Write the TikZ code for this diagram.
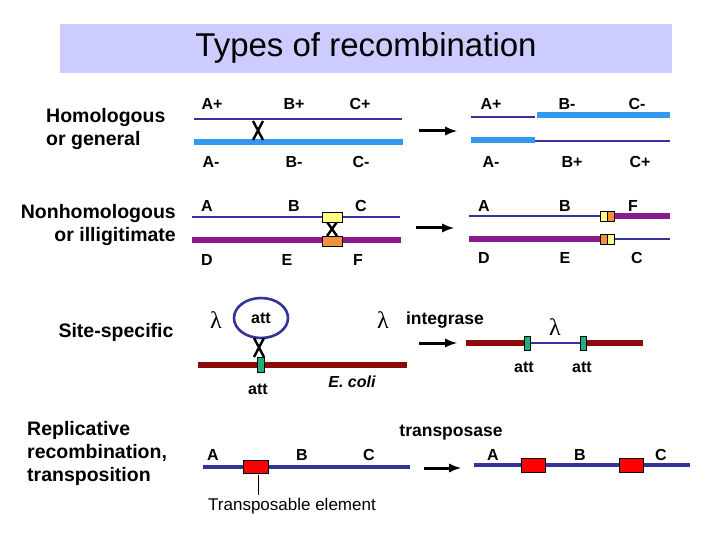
\documentclass[tikz,border=0pt]{standalone}
\usepackage{fontspec}
\setmainfont{Liberation Sans}
\newfontfamily\lamfont{Liberation Serif}
\begin{document}
\definecolor{dblue}{HTML}{333399}
\definecolor{lblue}{HTML}{3399EE}
\definecolor{purp}{HTML}{8B1A8B}
\definecolor{dred}{HTML}{8B0A0A}
\definecolor{lav}{HTML}{CCCCFF}
\definecolor{yel}{HTML}{FFFF88}
\definecolor{ora}{HTML}{F09040}
\definecolor{grn}{HTML}{20B080}
\begin{tikzpicture}[x=1pt,y=-1pt,
 lab/.style={font=\fontsize{16}{18}\selectfont\bfseries},
 lam/.style={font=\fontsize{24}{26}\selectfont\lamfont},
 side/.style={font=\fontsize{19.5}{23}\selectfont\bfseries,align=left,inner sep=0},
 db/.style={dblue,line width=2.8pt},
 lb/.style={lblue,line width=5.5pt},
 pu/.style={purp,line width=5.5pt},
 rd/.style={dred,line width=5.5pt},
 arr/.style={-latex,line width=3pt},
 xx/.style={line width=2.4pt},
 box/.style={draw=black,line width=0.6pt}]
\useasboundingbox (0,0) rectangle (720,540);
\fill[lav] (60,24) rectangle (672,73);
\node (title) at (366,48) {\fontsize{33}{36}\selectfont Types of recombination};
% left labels
\node[side,anchor=west] (h) at (46,129) {Homologous\\or general};
\node[side,anchor=east,align=right] (n) at (176,225) {Nonhomologous\\or illigitimate};
\node[side] (s) at (116,332) {Site-specific};
\node[side,anchor=west] (r) at (27,453) {Replicative\\recombination,\\transposition};
% row 1
\draw[db] (194,119) -- (402,119);
\draw[lb] (194,142) -- (403,142);
\draw[xx] (253,121) -- (263,140) (263,121) -- (253,140);
\node[lab] (a1) at (212,104) {A+}; \node[lab] (b1) at (294,104) {B+}; \node[lab] (c1) at (360,104) {C+};
\node[lab] (a2) at (211,162) {A-}; \node[lab] (b2) at (294,162) {B-}; \node[lab] (c2) at (361,162) {C-};
\coordinate (r1s) at (419,131); \coordinate (r1e) at (457,131);
\draw[arr] (r1s) -- (r1e);
\draw[db] (471,117) -- (535,117); \draw[lb] (537,115) -- (670,115);
\draw[lb] (471,140) -- (535,140); \draw[db] (535,141) -- (670,141);
\node[lab] (a3) at (491,104) {A+}; \node[lab] (b3) at (567,104) {B-}; \node[lab] (c3) at (637,104) {C-};
\node[lab] (a4) at (491,162) {A-}; \node[lab] (b4) at (572,162) {B+}; \node[lab] (c4) at (640,162) {C+};
% row 2
\draw[db] (192,217) -- (400,217);
\draw[pu] (192,240) -- (401,240);
\draw[xx] (327,222) -- (337,236) (337,222) -- (327,236);
\draw[box,fill=yel] (322,212) rectangle (342,222);
\draw[box,fill=ora] (322,236) rectangle (342,246);
\node[lab] (A5) at (207,206) {A}; \node[lab] (B5) at (294,206) {B}; \node[lab] (C5) at (361,206) {C};
\node[lab] (D5) at (207,260) {D}; \node[lab] (E5) at (287,260) {E}; \node[lab] (F5) at (358,260) {F};
\coordinate (r2s) at (416,228); \coordinate (r2e) at (454,228);
\draw[arr] (r2s) -- (r2e);
\draw[db] (469,216) -- (600,216); \draw[pu] (614,216) -- (670,216);
\draw[pu] (469,239) -- (600,239); \draw[db] (614,239) -- (670,239);
\draw[box,fill=yel] (600,211) rectangle (607,221); \draw[box,fill=ora] (607,211) rectangle (614,221);
\draw[box,fill=ora] (600,234) rectangle (607,244); \draw[box,fill=yel] (607,234) rectangle (614,244);
\node[lab] (A6) at (484,206) {A}; \node[lab] (B6) at (565,206) {B}; \node[lab] (F6) at (633,206) {F};
\node[lab] (D6) at (484,258) {D}; \node[lab] (E6) at (565,258) {E}; \node[lab] (C6) at (637,258) {C};
% row 3
\draw[dblue,line width=2.6pt] (261,318) ellipse (27 and 20);
\node[lab] (att1) at (261,318) {att};
\node[lam] (lam1) at (216,320) {λ};
\draw[rd] (198,365) -- (407,365);
\draw[xx] (254,338) -- (264,357) (264,338) -- (254,357);
\draw[box,fill=grn] (257,357) rectangle (264,372);
\node[lab] (att2) at (258,389) {att};
\node[lab,font=\fontsize{16}{18}\selectfont\bfseries\itshape] (ec) at (352,382) {E. coli};
\node[lam] (lam2) at (383,320) {λ};
\node[lab,font=\fontsize{17.5}{19}\selectfont\bfseries] (int) at (445,320) {integrase};
\coordinate (r3s) at (419,343); \coordinate (r3e) at (457,343);
\draw[arr] (r3s) -- (r3e);
\draw[rd] (466,343) -- (525,343); \draw[dblue,line width=2pt] (530,343) -- (580,343);
\draw[rd] (586,343) -- (643,343);
\draw[box,fill=grn] (524,336) rectangle (530,350);
\draw[box,fill=grn] (580,336) rectangle (586,350);
\node[lam] (lam3) at (555,327) {λ};
\node[lab] (att3) at (524,367) {att}; \node[lab] (att4) at (582,367) {att};
% row 4
\draw[db,line width=3.2pt] (203,467) -- (410,467);
\draw[box,fill=red] (243,460) rectangle (268,473);
\node[lab] (A7) at (213,455) {A}; \node[lab] (B7) at (302,455) {B}; \node[lab] (C7) at (369,455) {C};
\node[font=\fontsize{17}{19}\selectfont] (te) at (292,506) {Transposable element};
\coordinate (tl) at (258,475);
\draw[line width=0.8pt] (tl) -- (258,495);
\node[lab,font=\fontsize{17.5}{19}\selectfont\bfseries] (tp) at (451,433) {transposase};
\coordinate (r4s) at (424,468); \coordinate (r4e) at (461,468);
\draw[arr] (r4s) -- (r4e);
\draw[db,line width=3.2pt] (474,465) -- (690,465);
\draw[box,fill=red] (521,458) rectangle (545,472);
\draw[box,fill=red] (619,458) rectangle (643,472);
\node[lab] (A8) at (493,455) {A}; \node[lab] (B8) at (580,455) {B}; \node[lab] (C8) at (661,455) {C};
\end{tikzpicture}
\end{document}
